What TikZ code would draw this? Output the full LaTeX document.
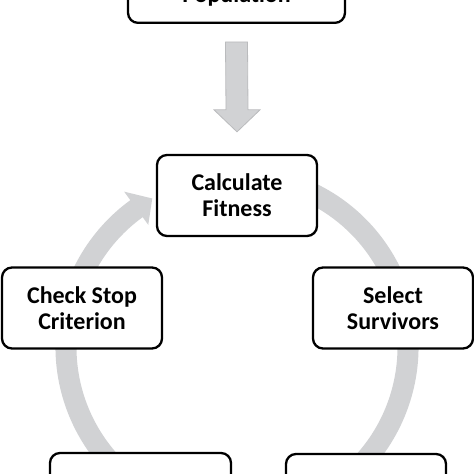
\documentclass[tikz,border=0pt]{standalone}
\usepackage{fontspec}
\setmainfont{Carlito}
\usepackage{xcolor}
\usepackage{tikz}
\usetikzlibrary{positioning,calc}
\definecolor{ringgray}{RGB}{209,210,212}
\definecolor{edgegray}{RGB}{186,187,189}
\begin{document}
\begin{tikzpicture}[x=1pt,y=1pt,rounded corners=10pt]
\tikzstyle{box}=[draw,line width=2.3pt,fill=white,minimum width=160pt,minimum height=81pt,align=center,font=\fontsize{24}{26}\selectfont\bfseries]
\useasboundingbox (0,0) rectangle (474,474);
\clip (0,0) rectangle (474,474);
\coordinate (hub) at (237,127);
\fill[ringgray,rounded corners=0pt] ($(hub)+(70:181.5)$) arc[start angle=70,end angle=-234,radius=181.5]
  -- ($(hub)+(126:192)$) -- ($(hub)+(119.7:171)$) -- ($(hub)+(126:151)$)
  -- ($(hub)+(126:160.5)$) arc[start angle=-234,end angle=70,radius=160.5] -- cycle;
\node[box,minimum width=217pt,minimum height=0pt,text depth=6pt,inner ysep=14pt,anchor=south] (pop) at (236.5,450) {Population};
\node[box] (fitness) at (237,278.5) {Calculate\\Fitness};
\node[box] (stop) at (82,166) {Check Stop\\Criterion};
\node[box] (select) at (393,166) {Select\\Survivors};
\node[box,minimum width=181pt] (breed) at (140.5,-19.5) {};
\node[box] (mutate) at (366,-20.5) {};
\draw[fill=ringgray,draw=edgegray,line width=0.8pt,rounded corners=0pt] ($(pop.south)+(-11,-18)$) -- ($(fitness.north)+(-11,44)$) -- ++(-12,0)
  -- ($(fitness.north)+(0,22)$) -- ($(fitness.north)+(23,44)$) -- ++(-12,0) -- ($(pop.south)+(11,-18)$) -- cycle;
\end{tikzpicture}
\end{document}
